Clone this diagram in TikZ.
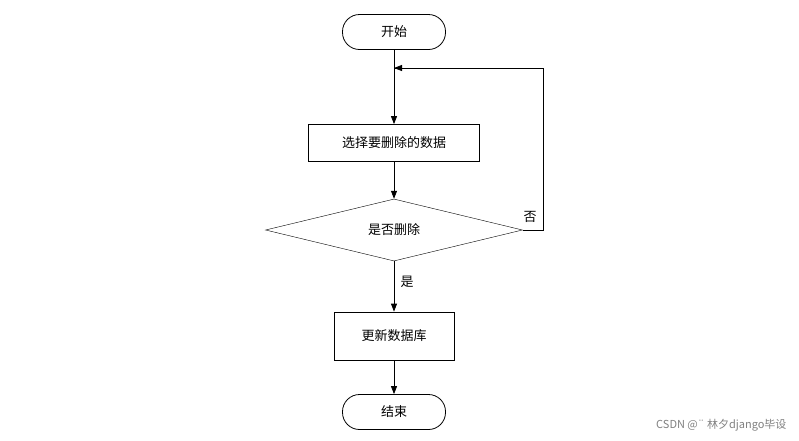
\documentclass[tikz,border=0pt]{standalone}
\usepackage{fontspec}
\newfontfamily\cjk{Noto Sans CJK SC}
\usetikzlibrary{shapes.geometric,arrows.meta}
\begin{document}
\begin{tikzpicture}[x=1pt,y=-1pt,
  every node/.style={font=\cjk\fontsize{13}{15}\selectfont},
  term/.style={draw,thick,rounded corners=17pt,minimum width=103pt,minimum height=35pt,inner sep=0pt},
  proc/.style={draw,thick,minimum height=37pt,inner sep=0pt},
  dec/.style={draw,diamond,aspect=4.1,minimum width=257pt,minimum height=62pt,inner sep=0pt},
  arr/.style={thick,-{Triangle[length=8pt,width=6pt]}}]
\useasboundingbox (0,0) rectangle (799,440);
\node[term] (s) at (394,32) {开始};
\node[proc,minimum width=171pt] (p1) at (394,143) {选择要删除的数据};
\node[dec] (d) at (394,230) {是否删除};
\node[proc,minimum width=120pt,minimum height=48pt] (p2) at (394,336) {更新数据库};
\node[term] (e) at (394,412) {结束};
\coordinate (c1) at (543,230);
\coordinate (c2) at (543,68);
\coordinate (c3) at (394,68);
\draw[arr] (s) -- (p1);
\draw[arr] (p1) -- (d);
\draw[arr] (d) -- node[right,xshift=3pt,pos=0.4] {是} (p2);
\draw[arr] (p2) -- (e);
\draw[thick] (d.east) -- (c1) -- (c2) -- (c3);
\draw[arr] (c2) -- (c3);
\node at (530,217) {否};
\node[font=\cjk\fontsize{11}{13}\selectfont,text=gray,anchor=east] (w) at (790,425) {CSDN @\textasciidieresis\ 林夕django毕设};
\end{tikzpicture}
\end{document}
